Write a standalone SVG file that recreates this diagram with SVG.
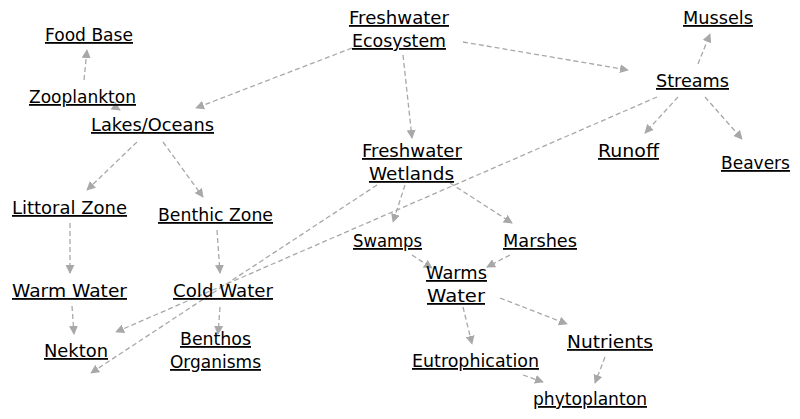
<svg xmlns="http://www.w3.org/2000/svg" width="800" height="419" viewBox="0 0 800 419">
<defs>
<style>
.t{font-family:"DejaVu Sans","Liberation Sans",sans-serif;font-size:18px;fill:#000;text-decoration:underline;}
.c line{stroke:#a8a8a8;stroke-width:1.3;stroke-dasharray:5,3;fill:none;marker-end:url(#ah);}
</style>
<marker id="ah" viewBox="0 0 10 10" refX="9" refY="5" markerWidth="9" markerHeight="9" markerUnits="userSpaceOnUse" orient="auto">
<path d="M0,0 L10,5 L0,10 Z" fill="#a8a8a8"/>
</marker>
</defs>
<rect width="800" height="419" fill="#fff"/>
<g id="connectors" class="c">
<line x1="84" y1="80" x2="87" y2="50"/>
<line x1="112" y1="105" x2="120" y2="110"/>
<line x1="352" y1="48" x2="196" y2="108"/>
<line x1="463" y1="42" x2="628" y2="70"/>
<line x1="403" y1="55" x2="412" y2="138"/>
<line x1="698" y1="64" x2="710" y2="34"/>
<line x1="678" y1="97" x2="645" y2="133"/>
<line x1="705" y1="97" x2="742" y2="139"/>
<line x1="657" y1="97" x2="116" y2="332"/>
<line x1="377" y1="185" x2="91" y2="373"/>
<line x1="137" y1="142" x2="87" y2="190"/>
<line x1="163" y1="142" x2="203" y2="197"/>
<line x1="70" y1="223" x2="70" y2="273"/>
<line x1="217" y1="230" x2="220" y2="273"/>
<line x1="72" y1="306" x2="74" y2="334"/>
<line x1="220" y1="307" x2="218" y2="334"/>
<line x1="405" y1="185" x2="393" y2="222"/>
<line x1="450" y1="183" x2="512" y2="223"/>
<line x1="412" y1="255" x2="432" y2="268"/>
<line x1="510" y1="255" x2="487" y2="267"/>
<line x1="463" y1="307" x2="472" y2="344"/>
<line x1="500" y1="298" x2="567" y2="324"/>
<line x1="605" y1="357" x2="595" y2="383"/>
<line x1="523" y1="375" x2="543" y2="382"/>
</g>
<g id="food-base"><text class="t" x="45" y="41" textLength="88" lengthAdjust="spacingAndGlyphs">Food Base</text></g>
<g id="zooplankton"><text class="t" x="29" y="103" textLength="107" lengthAdjust="spacingAndGlyphs">Zooplankton</text></g>
<g id="lakes-oceans"><text class="t" x="91" y="131" textLength="123" lengthAdjust="spacingAndGlyphs">Lakes/Oceans</text></g>
<g id="freshwater-ecosystem">
<text class="t" x="349" y="24" textLength="100" lengthAdjust="spacingAndGlyphs">Freshwater</text>
<text class="t" x="352" y="47" textLength="94" lengthAdjust="spacingAndGlyphs">Ecosystem</text>
</g>
<g id="mussels"><text class="t" x="683" y="24" textLength="70" lengthAdjust="spacingAndGlyphs">Mussels</text></g>
<g id="streams"><text class="t" x="656" y="87" textLength="73" lengthAdjust="spacingAndGlyphs">Streams</text></g>
<g id="runoff"><text class="t" x="598" y="157" textLength="61" lengthAdjust="spacingAndGlyphs">Runoff</text></g>
<g id="beavers"><text class="t" x="721" y="169" textLength="69" lengthAdjust="spacingAndGlyphs">Beavers</text></g>
<g id="freshwater-wetlands">
<text class="t" x="362" y="157" textLength="100" lengthAdjust="spacingAndGlyphs">Freshwater</text>
<text class="t" x="369" y="180" textLength="85" lengthAdjust="spacingAndGlyphs">Wetlands</text>
</g>
<g id="littoral-zone"><text class="t" x="12" y="214" textLength="115" lengthAdjust="spacingAndGlyphs">Littoral Zone</text></g>
<g id="benthic-zone"><text class="t" x="158" y="221" textLength="115" lengthAdjust="spacingAndGlyphs">Benthic Zone</text></g>
<g id="warm-water"><text class="t" x="12" y="297" textLength="115" lengthAdjust="spacingAndGlyphs">Warm Water</text></g>
<g id="cold-water"><text class="t" x="173" y="297" textLength="100" lengthAdjust="spacingAndGlyphs">Cold Water</text></g>
<g id="nekton"><text class="t" x="44" y="357" textLength="64" lengthAdjust="spacingAndGlyphs">Nekton</text></g>
<g id="benthos-organisms">
<text class="t" x="180" y="345" textLength="71" lengthAdjust="spacingAndGlyphs">Benthos</text>
<text class="t" x="170" y="368" textLength="91" lengthAdjust="spacingAndGlyphs">Organisms</text>
</g>
<g id="swamps"><text class="t" x="353" y="247" textLength="69" lengthAdjust="spacingAndGlyphs">Swamps</text></g>
<g id="marshes"><text class="t" x="503" y="247" textLength="74" lengthAdjust="spacingAndGlyphs">Marshes</text></g>
<g id="warms-water">
<text class="t" x="426" y="279" textLength="61" lengthAdjust="spacingAndGlyphs">Warms</text>
<text class="t" x="427" y="302" textLength="58" lengthAdjust="spacingAndGlyphs">Water</text>
</g>
<g id="eutrophication"><text class="t" x="412" y="367" textLength="127" lengthAdjust="spacingAndGlyphs">Eutrophication</text></g>
<g id="nutrients"><text class="t" x="567" y="348" textLength="86" lengthAdjust="spacingAndGlyphs">Nutrients</text></g>
<g id="phytoplanton"><text class="t" x="533" y="405" textLength="114" lengthAdjust="spacingAndGlyphs">phytoplanton</text></g>
</svg>
